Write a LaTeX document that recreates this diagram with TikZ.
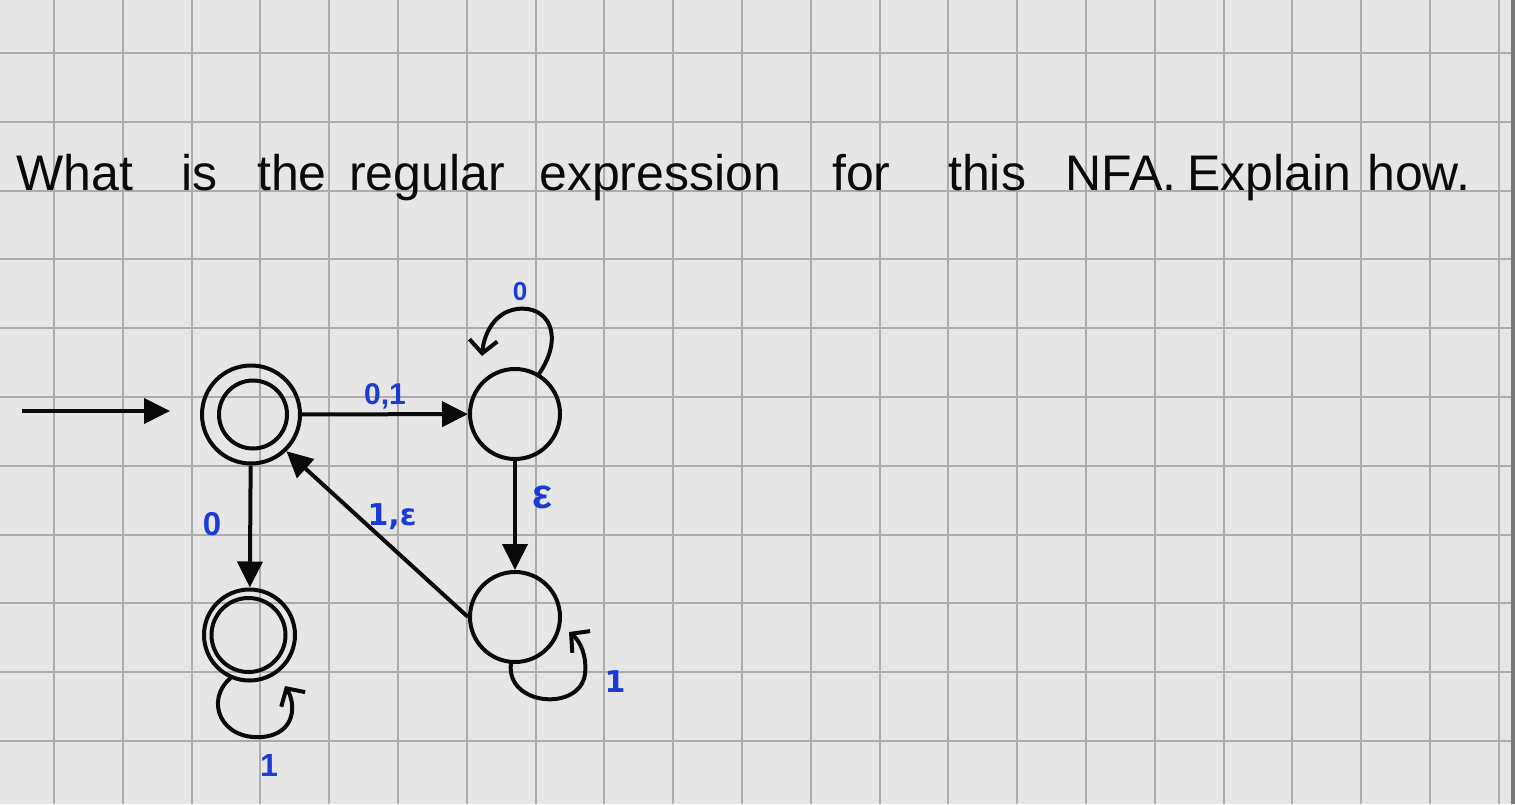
\documentclass[tikz,border=0pt]{standalone}
\usepackage{fontspec}
\setmainfont{Liberation Sans}
\newfontfamily\dvs{DejaVu Sans}
\usetikzlibrary{arrows.meta}
\definecolor{paper}{RGB}{230,230,230}
\definecolor{gridc}{RGB}{172,172,172}
\definecolor{borderc}{RGB}{120,120,120}
\definecolor{ink}{RGB}{10,10,10}
\definecolor{pen}{RGB}{28,58,212}
\begin{document}
\begin{tikzpicture}[x=1pt,y=-1pt,
  state/.style={circle,draw=ink,line width=4pt,inner sep=0pt},
  edge/.style={draw=ink,line width=4pt,-{Triangle[length=26pt,width=25pt]}},
  loopedge/.style={draw=ink,line width=4pt,line cap=round,-{Straight Barb[length=13pt,width=28pt]}},
  lab/.style={text=pen,inner sep=0pt,font=\bfseries\fontsize{30}{30}\selectfont},
  word/.style={anchor=base west,inner sep=0pt,text=ink,font=\fontsize{50}{60}\selectfont}]
\useasboundingbox (0,0) rectangle (1515,804);
\fill[paper] (0,0) rectangle (1515,804);
\foreach \i in {0,...,21} \draw[gridc,line width=2pt] ({54+68.8*\i},0) -- ({54+68.8*\i},804);
\foreach \j in {0,...,10} \draw[gridc,line width=2pt] (0,{53+68.8*\j}) -- (1515,{53+68.8*\j});
\fill[borderc] (1511,0) rectangle (1515,804);

% title
\node[word] (w1) at (16,190) {What};
\node[word] (w2) at (181,190) {is};
\node[word] (w3) at (257,190) {the};
\node[word] (w4) at (349,190) {regular};
\node[word] (w5) at (539,190) {expression};
\node[word] (w6) at (832,190) {for};
\node[word] (w7) at (948,190) {this};
\node[word] (w8) at (1065,190) {NFA.};
\node[word] (w9) at (1187,190) {Explain};
\node[word] (w10) at (1367,190) {how.};

% states
\node[state,minimum size=98pt] (q0) at (251,414.5) {};
\draw[ink,line width=4pt] (253,414.5) circle (34);
\node[state,minimum size=90pt] (q1) at (515,414) {};
\node[state,minimum size=90pt] (q2) at (515,617) {};
\node[state,minimum size=91pt] (q3) at (249.5,635) {};
\draw[ink,line width=4pt] (248.5,635) circle (37);

% start arrow
\coordinate (s0) at (22,411);
\coordinate (s1) at (170,411);
\draw[edge] (s0) -- (s1);

% transitions
\draw[edge] (q0) -- (q1);
\draw[edge] (q1) -- (q2);
\draw[edge] (q2.west) -- (q0.314);
\draw[edge] (q0) -- (q3);

% self loops
\coordinate (t1) at (482,356);
\draw[loopedge] (q1.59) .. controls (565,335) and (548,305) .. (517,309)
  .. controls (495,312) and (484,333) .. (t1);
\coordinate (t2) at (569,632);
\draw[loopedge] (q2.265) .. controls (506,706) and (580,712) .. (585,674)
  .. controls (587,655) and (580,641) .. (t2);
\coordinate (t3) at (285,686);
\draw[loopedge] (q3.246) .. controls (205,700) and (220,740) .. (262,737)
  .. controls (296,734) and (296,704) .. (t3);

% labels
\node[lab] (l01) at (385,396) {0,1};
\node[lab,font=\bfseries\fontsize{33}{33}\selectfont] (l0) at (212,524) {0};
\node[lab,font=\bfseries\fontsize{42}{42}\selectfont] (leps) at (542,497) {ε};
\node[lab,font=\dvs\bfseries\fontsize{30}{30}\selectfont] (l1e) at (392,517) {1,ε};
\node[lab,font=\bfseries\fontsize{26}{26}\selectfont] (lo) at (520,292) {0};
\node[lab,font=\dvs\bfseries\fontsize{30}{30}\selectfont] (l1b) at (615,682) {1};
\node[lab,font=\bfseries\fontsize{32}{32}\selectfont] (l1c) at (269,765) {1};
\end{tikzpicture}
\end{document}
